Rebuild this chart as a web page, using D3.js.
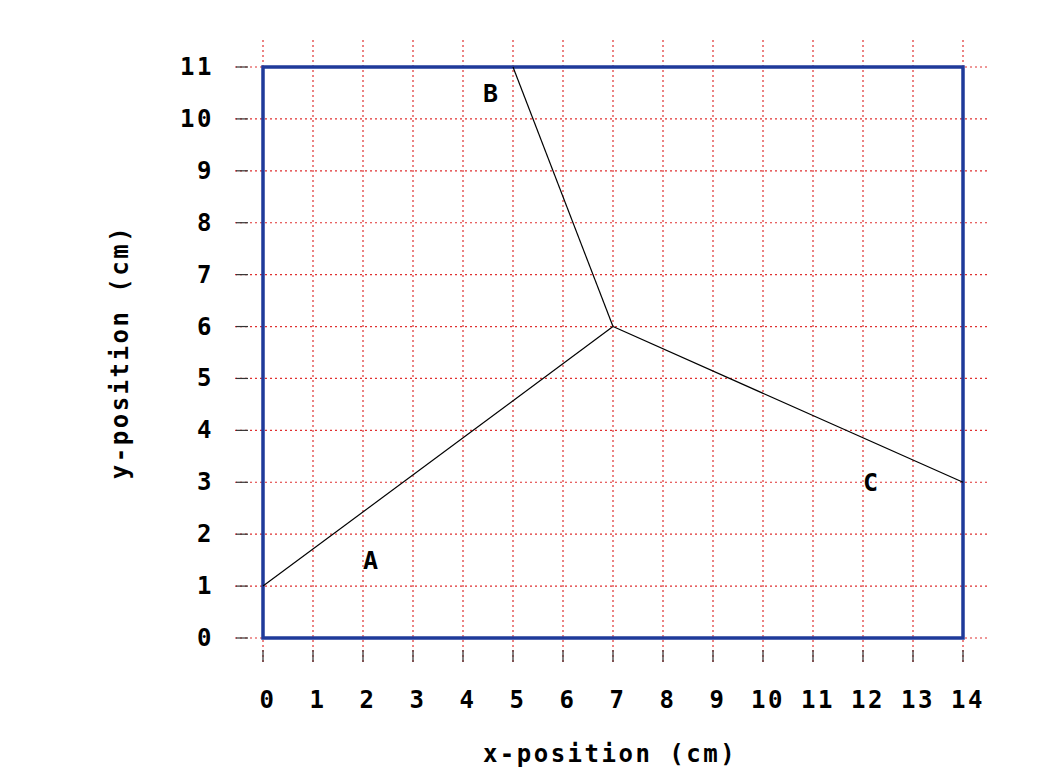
<!DOCTYPE html>
<html><head><meta charset="utf-8">
<script src="https://cdn.jsdelivr.net/npm/d3@7"></script>
<style>body{margin:0;background:#fff}</style></head>
<body><svg id="c" width="1042" height="782"></svg>
<script>
const xTicks = d3.range(0, 15);
const yTicks = d3.range(0, 12);
const segments = [
  {x1:0, y1:1, x2:7, y2:6},
  {x1:5, y1:11, x2:7, y2:6},
  {x1:7, y1:6, x2:14, y2:3}
];
const labels = [
  {text:"A", x:2.15, y:1.5},
  {text:"B", x:4.55, y:10.5},
  {text:"C", x:12.15, y:3}
];
const xTitle = "x-position (cm)";
const yTitle = "y-position (cm)";

const svg = d3.select("#c");
const font = "'DejaVu Sans Mono', monospace";
const x = d3.scaleLinear().domain([0,14]).range([263,963]);
const y = d3.scaleLinear().domain([0,11]).range([638,67]);

svg.selectAll(".gv").data(xTicks).join("line")
  .attr("x1",d=>x(d)).attr("x2",d=>x(d)).attr("y1",40).attr("y2",665)
  .attr("stroke","#e03030").attr("stroke-width",1.2).attr("stroke-dasharray","2,3");
svg.selectAll(".gh").data(yTicks).join("line")
  .attr("y1",d=>y(d)).attr("y2",d=>y(d)).attr("x1",235).attr("x2",990)
  .attr("stroke","#e03030").attr("stroke-width",1.2).attr("stroke-dasharray","2,3");

svg.selectAll(".tx").data(xTicks).join("line")
  .attr("x1",d=>x(d)).attr("x2",d=>x(d)).attr("y1",650).attr("y2",662)
  .attr("stroke","#333").attr("stroke-width",1.2);
svg.selectAll(".ty").data(yTicks).join("line")
  .attr("y1",d=>y(d)).attr("y2",d=>y(d)).attr("x1",236).attr("x2",248)
  .attr("stroke","#333").attr("stroke-width",1.2);

const tickStyle = s => s.style("font-family",font).style("font-weight","bold")
  .style("font-size","24px").style("letter-spacing","2.5px");
svg.selectAll(".lx").data(xTicks).join("text")
  .attr("x",d=>x(d)+5).attr("y",708).attr("text-anchor","middle")
  .call(tickStyle).text(d=>d);
svg.selectAll(".ly").data(yTicks).join("text")
  .attr("x",214).attr("y",d=>y(d)+8).attr("text-anchor","end")
  .call(tickStyle).text(d=>d);

svg.append("rect").attr("x",x(0)).attr("y",y(11)).attr("width",x(14)-x(0)).attr("height",y(0)-y(11))
  .attr("fill","none").attr("stroke","#1f3a9a").attr("stroke-width",3.5);

svg.selectAll(".seg").data(segments).join("line")
  .attr("x1",d=>x(d.x1)).attr("y1",d=>y(d.y1)).attr("x2",d=>x(d.x2)).attr("y2",d=>y(d.y2))
  .attr("stroke","#000").attr("stroke-width",1.2);

svg.selectAll(".lab").data(labels).join("text")
  .attr("x",d=>x(d.x)).attr("y",d=>y(d.y)+9).attr("text-anchor","middle")
  .style("font-family",font).style("font-weight","bold").style("font-size","25px")
  .text(d=>d.text);

svg.append("text").attr("x",610).attr("y",762).attr("text-anchor","middle")
  .call(tickStyle).text(xTitle);
svg.append("text").attr("transform","translate(128,352) rotate(-90)").attr("text-anchor","middle")
  .call(tickStyle).text(yTitle);
</script></body></html>
